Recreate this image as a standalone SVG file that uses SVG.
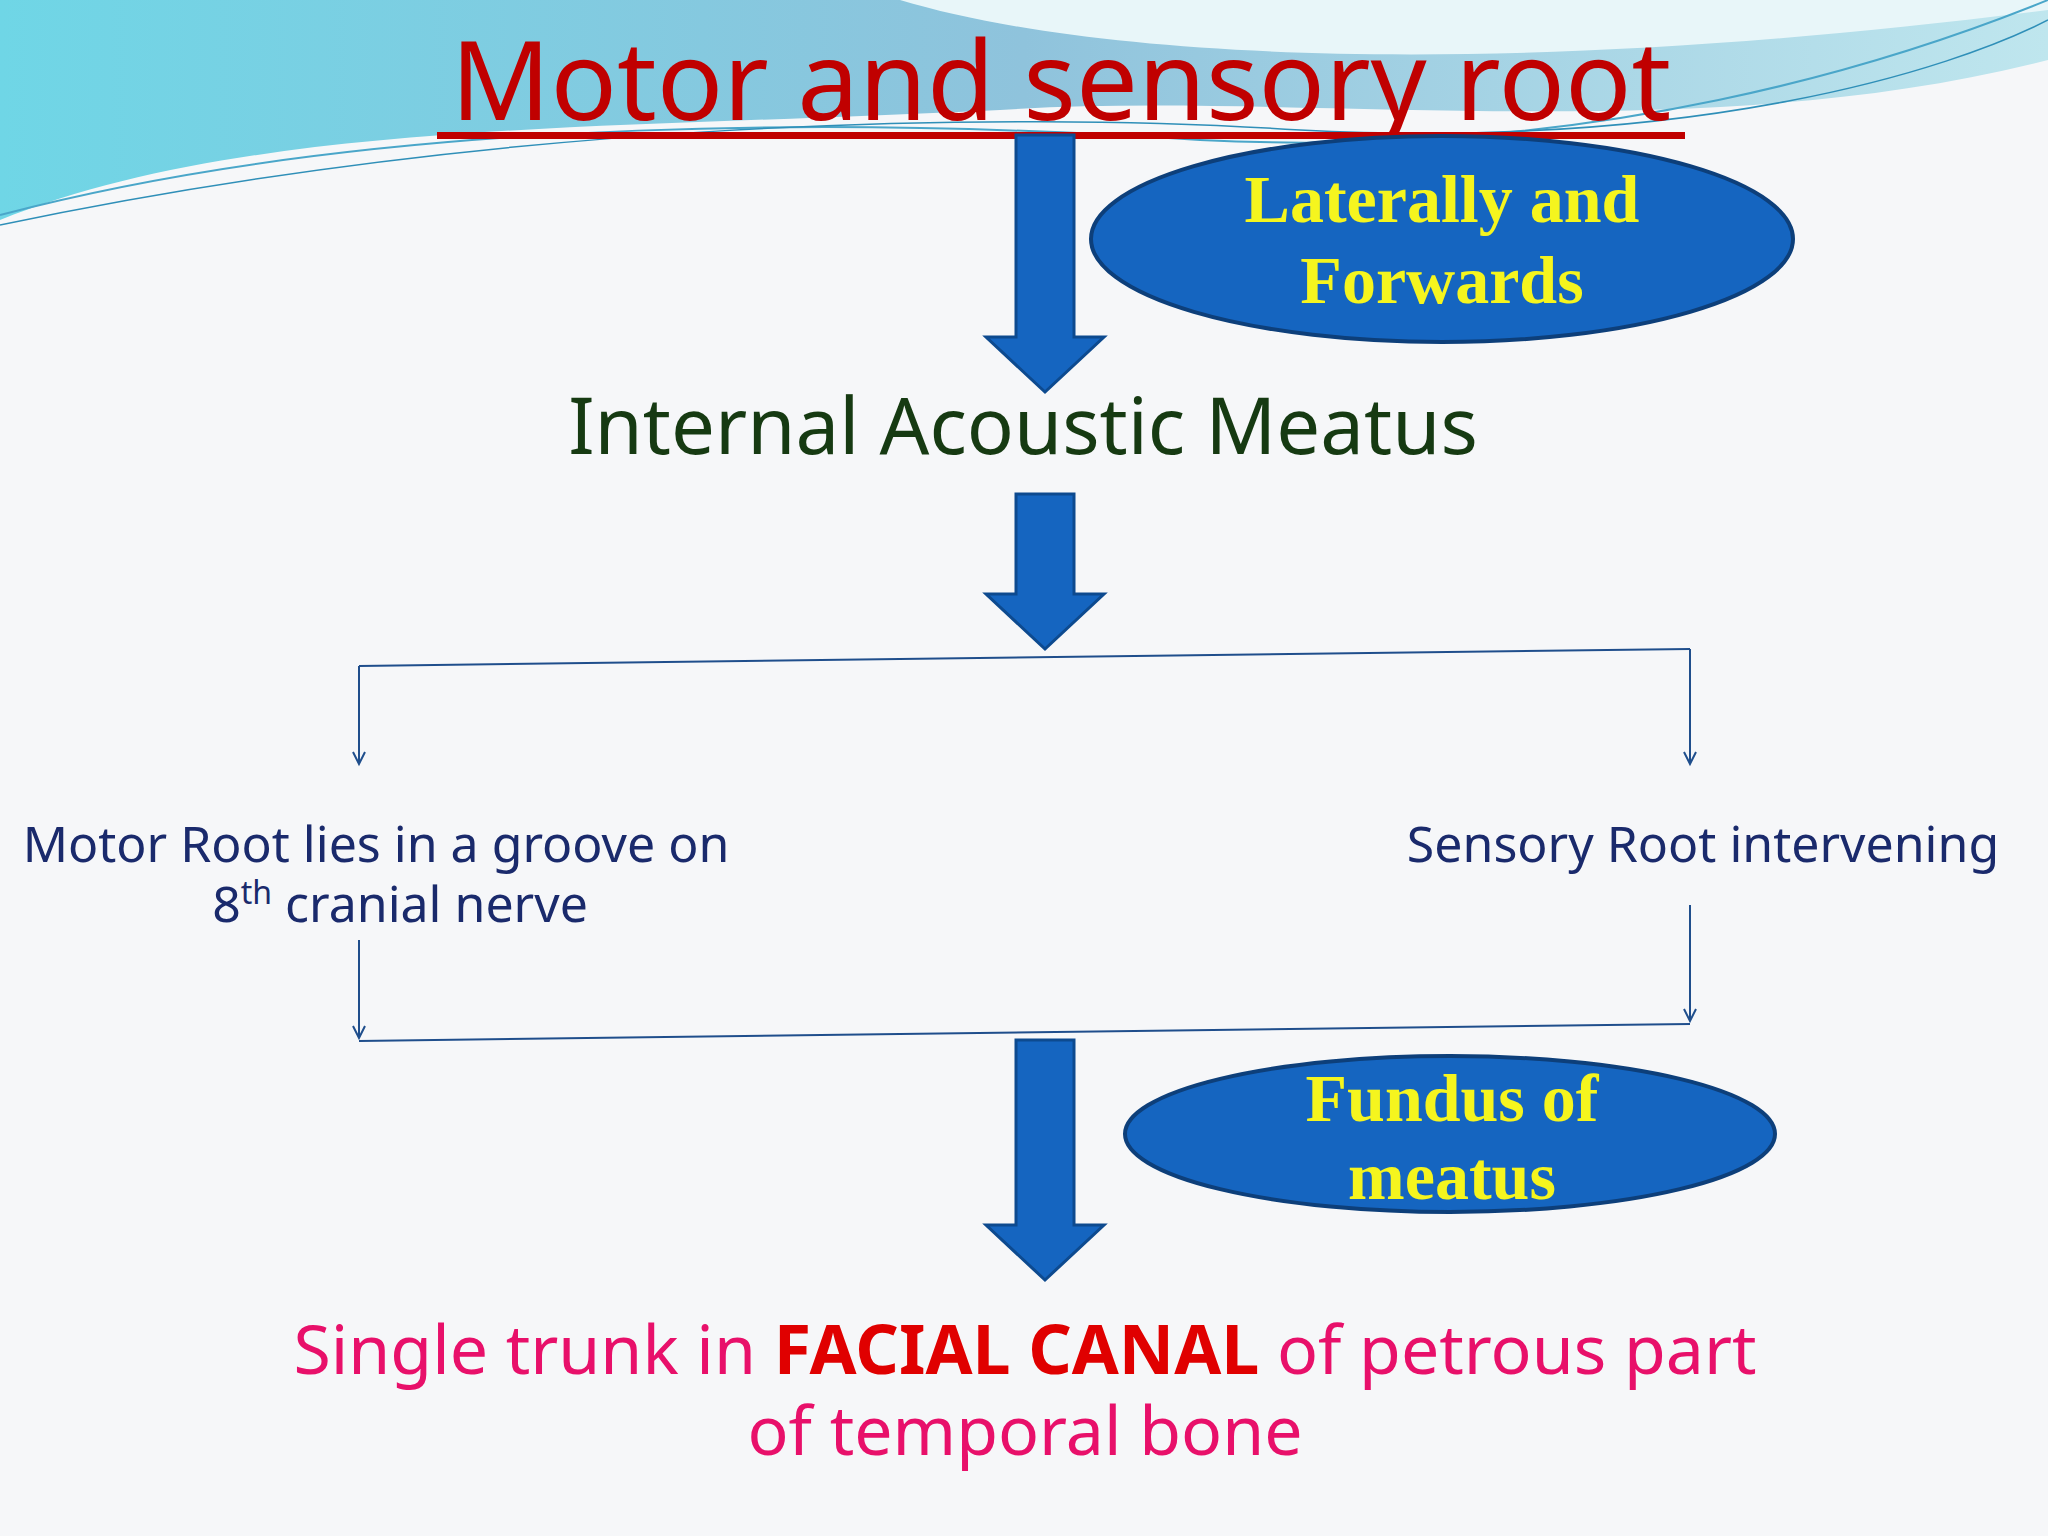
<svg xmlns="http://www.w3.org/2000/svg" width="2048" height="1536" viewBox="0 0 2048 1536">
<defs>
<linearGradient id="sw" x1="0" y1="0" x2="1" y2="0">
<stop offset="0" stop-color="#6fd6e6"/><stop offset="0.5" stop-color="#8fc3dc"/><stop offset="1" stop-color="#bfe6ee"/>
</linearGradient>
<marker id="ah" markerWidth="16" markerHeight="16" refX="13" refY="7" orient="auto" markerUnits="userSpaceOnUse">
<path d="M1,1 L13,7 L1,13" fill="none" stroke="#1f4e8c" stroke-width="2"/>
</marker>
<style>
.bar{fill:#1565c0;stroke:#0d4a8f;stroke-width:3}
.ell{fill:#1565c0;stroke:#0d3f7a;stroke-width:4}
.yl{font-family:"Liberation Serif",serif;font-weight:bold;font-size:68px;fill:#f5f51e;text-anchor:middle}
.ln{stroke:#1f4e8c;stroke-width:2;fill:none}
.nv{font-family:"Noto Sans",sans-serif;font-size:50px;fill:#1a2a6c;text-anchor:middle}
.pk{font-family:"Noto Sans",sans-serif;font-size:68px;fill:#e8106a;text-anchor:middle}
</style>
</defs>
<rect width="2048" height="1536" fill="#f6f7f9"/>
<path d="M0,0 H2048 V60 C1700,150 1300,90 1000,110 C600,130 250,120 0,220 Z" fill="url(#sw)"/>
<path d="M900,0 C1100,60 1500,80 2048,10 V0 Z" fill="#e8f6f9"/>
<path d="M0,215 C400,110 900,120 1200,140 C1600,160 1900,60 2048,0" fill="none" stroke="#4aa6c9" stroke-width="2"/>
<path d="M0,225 C500,120 1000,110 1300,130 C1700,150 1950,70 2048,20" fill="none" stroke="#2f8fb8" stroke-width="1.5"/>
<g id="title">
<text x="1061" y="120" font-family="Noto Sans,sans-serif" font-size="110" fill="#c00000" text-anchor="middle">Motor and sensory root</text>
<rect x="437" y="132" width="1248" height="7" fill="#c00000"/>
</g>
<g id="connectors">
<path class="bar" d="M1016,135 H1074 V337 H1104 L1045,392 L986,337 H1016 Z"/>
<path class="bar" d="M1016,494 H1074 V594 H1104 L1045,649 L986,594 H1016 Z"/>
<path class="bar" d="M1016,1040 H1074 V1225 H1104 L1045,1280 L986,1225 H1016 Z"/>
<path class="ln" d="M359,666 L1690,649"/>
<path class="ln" d="M359,666 V764" marker-end="url(#ah)"/>
<path class="ln" d="M1690,649 V764" marker-end="url(#ah)"/>
<path class="ln" d="M359,940 V1038" marker-end="url(#ah)"/>
<path class="ln" d="M1690,905 V1021" marker-end="url(#ah)"/>
<path class="ln" d="M359,1041 L1690,1024"/>
</g>
<g id="lateral">
<ellipse class="ell" cx="1442" cy="239" rx="351" ry="103"/>
<text class="yl" x="1442" y="222">Laterally  and</text>
<text class="yl" x="1442" y="303">Forwards</text>
</g>
<g id="iam">
<text x="1023" y="454" font-family="Noto Sans,sans-serif" font-size="78" fill="#163a12" text-anchor="middle">Internal Acoustic Meatus</text>
</g>
<g id="motor">
<text class="nv" x="376" y="862">Motor Root lies in a groove on</text>
<text class="nv" x="400" y="922">8<tspan font-size="32" dy="-18">th</tspan><tspan dy="18"> cranial nerve</tspan></text>
</g>
<g id="sensory">
<text class="nv" x="1703" y="862">Sensory Root intervening</text>
</g>
<g id="fundus">
<ellipse class="ell" cx="1450" cy="1134" rx="325" ry="78"/>
<text class="yl" x="1452" y="1121">Fundus of</text>
<text class="yl" x="1452" y="1199">meatus</text>
</g>
<g id="trunk">
<text class="pk" x="1025" y="1374">Single trunk in <tspan fill="#e00000" font-weight="bold">FACIAL CANAL</tspan> of petrous part</text>
<text class="pk" x="1025" y="1455">of temporal bone</text>
</g>
</svg>
